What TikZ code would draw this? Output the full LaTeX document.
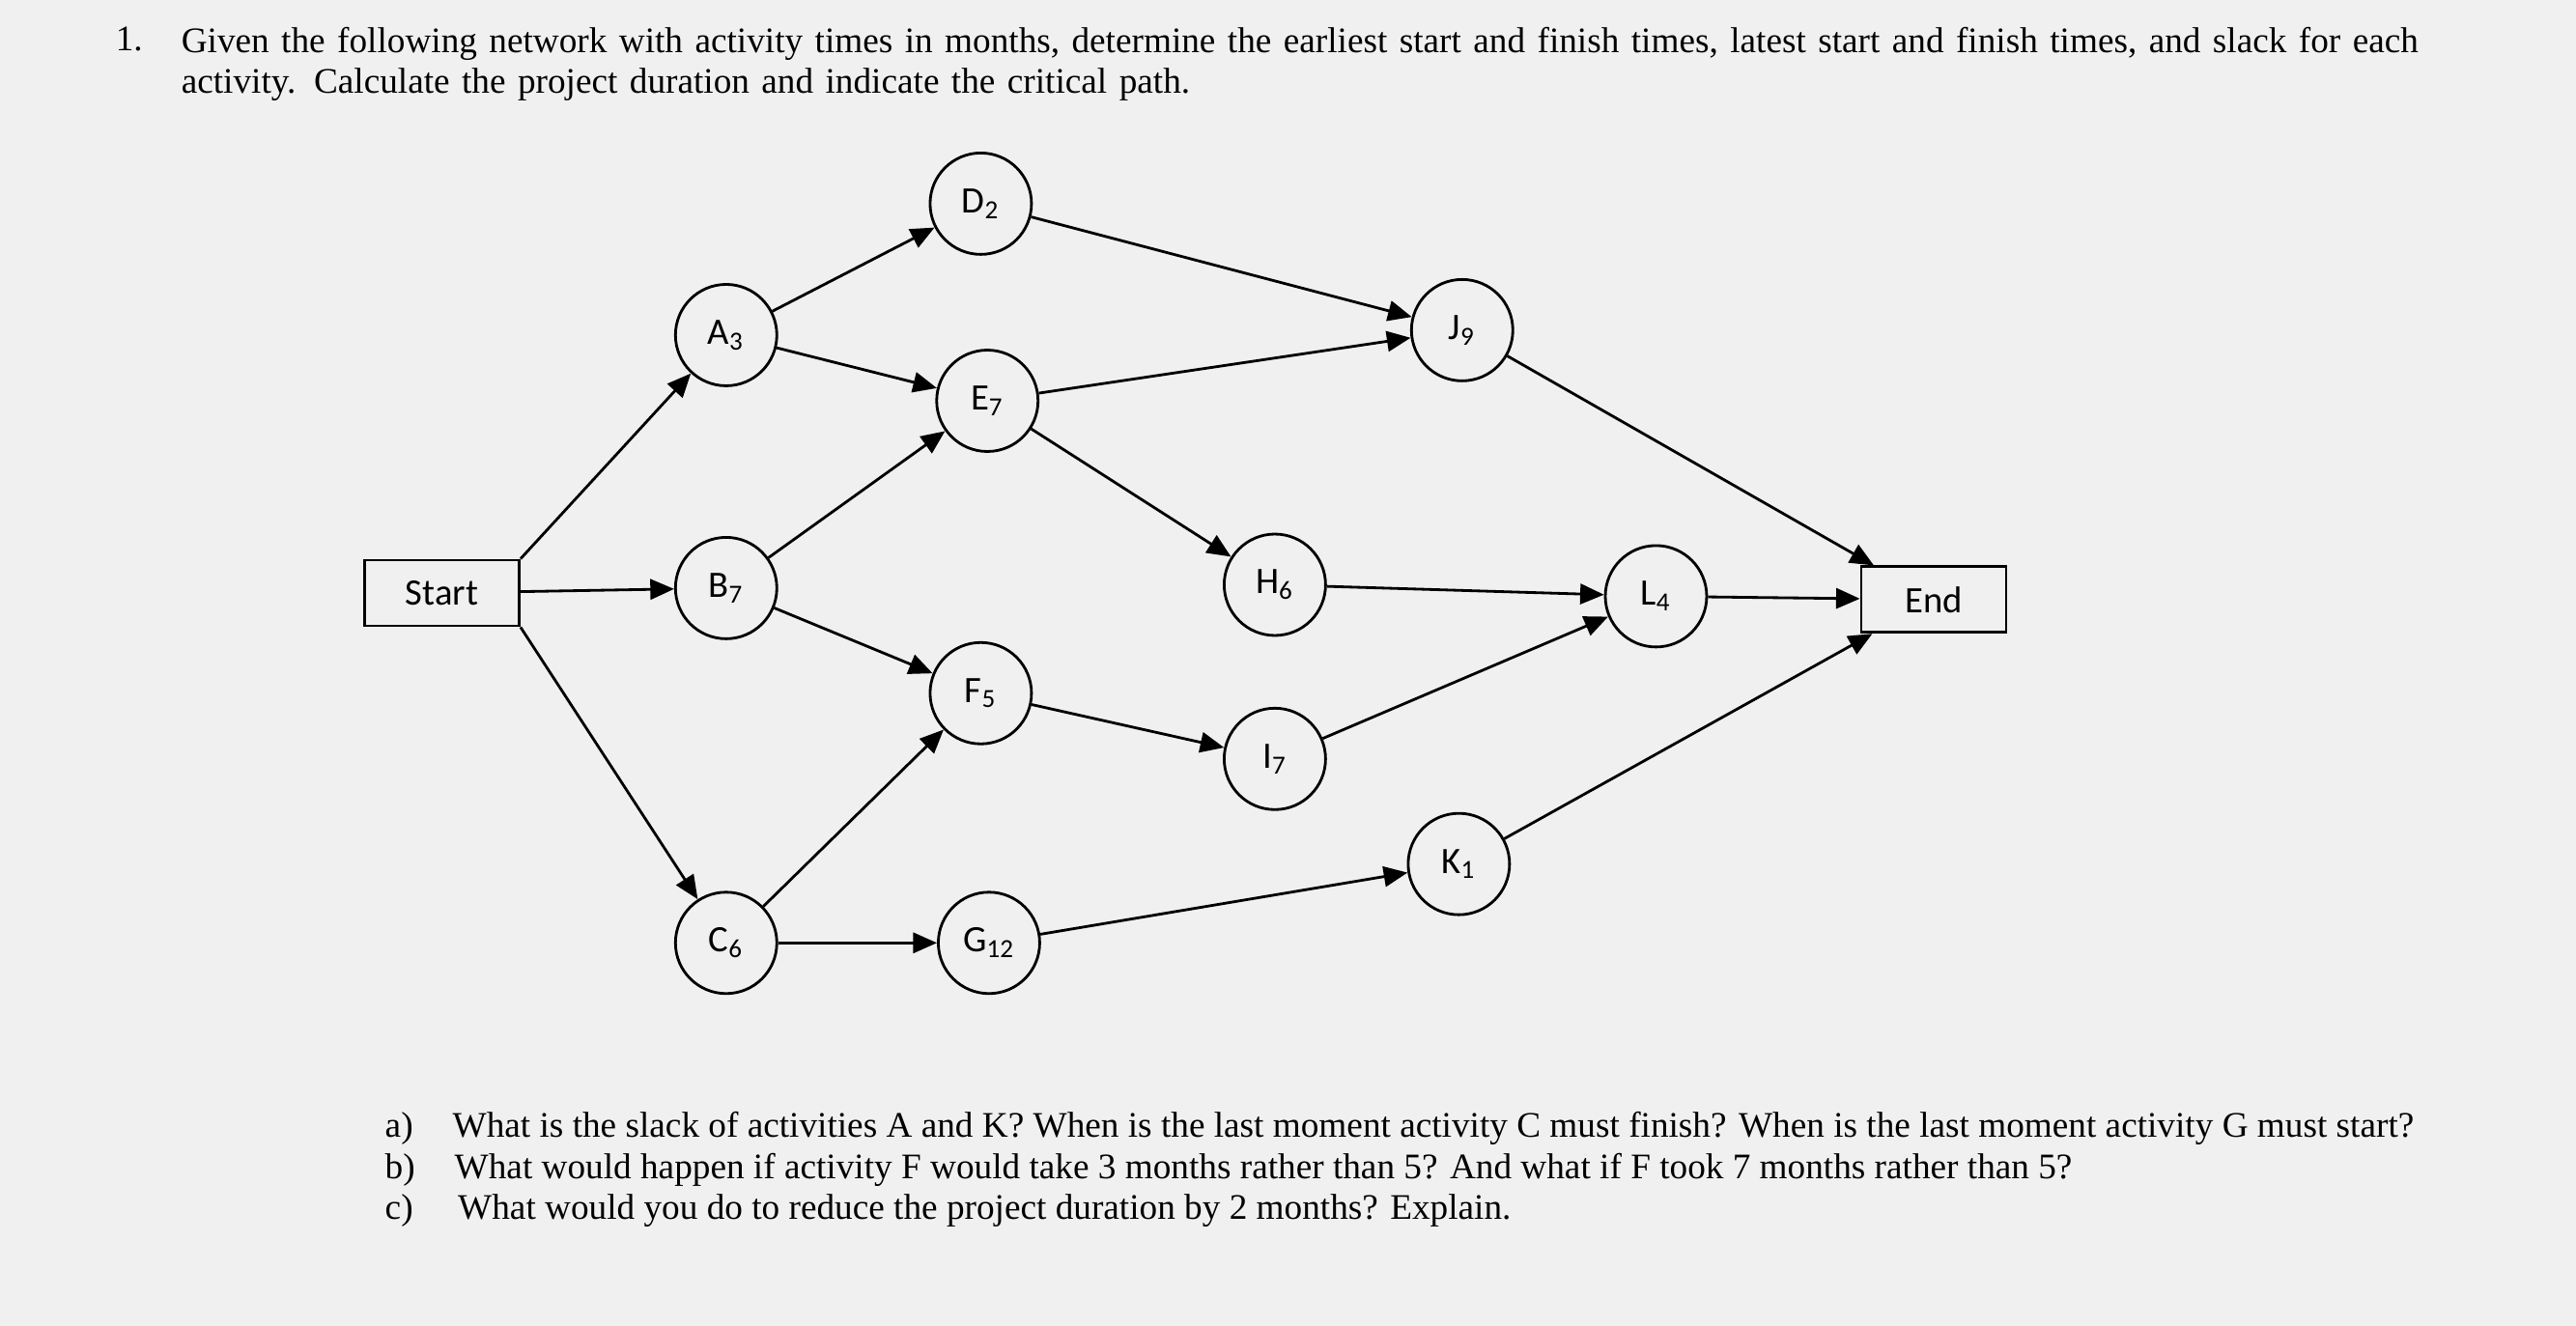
\documentclass[tikz,border=0pt]{standalone}
\usepackage{fontspec}
\setmainfont{Liberation Serif}
\newfontfamily\lab{Carlito}
\usetikzlibrary{arrows.meta}
\begin{document}
\begin{tikzpicture}[x=0.01701cm,y=-0.01701cm,
  act/.style={circle,draw,thick,minimum size=1.05cm,inner sep=0pt,font=\lab\fontsize{11}{13}\selectfont},
  term/.style={draw,thick,minimum width=1.6cm,minimum height=0.68cm,font=\lab\fontsize{11}{13}\selectfont},
  arr/.style={-{Triangle[length=7pt,width=6pt]},thick},
  qt/.style={font=\fontsize{10.6}{12}\selectfont,anchor=west,inner sep=0pt}]
\fill[gray!12] (0,0) rectangle (1568,807);
\useasboundingbox (0,0) rectangle (1568,807);
\node[qt,anchor=north west] (n1) at (70,16) {1.};
\node[qt,anchor=north west,text width=23.5cm,align=left] (q) at (110,16) {Given the following network with activity times in months, determine the earliest start and finish times, latest start and finish times, and slack for each\\activity. Calculate the project duration and indicate the critical path.};
\node[act] (D) at (597,124) {D\textsubscript{2}};
\node[act] (A) at (442,204) {A\textsubscript{3}};
\node[act] (J) at (890,201) {J\textsubscript{9}};
\node[act] (E) at (601,244) {E\textsubscript{7}};
\node[term] (S) at (269,361) {Start};
\node[act] (B) at (442,358) {B\textsubscript{7}};
\node[act] (H) at (776,356) {H\textsubscript{6}};
\node[act] (L) at (1008,363) {L\textsubscript{4}};
\node[term,minimum width=1.5cm] (End) at (1177,365) {End};
\node[act] (F) at (597,422) {F\textsubscript{5}};
\node[act] (I) at (776,462) {I\textsubscript{7}};
\node[act] (K) at (888,526) {K\textsubscript{1}};
\node[act] (C) at (442,574) {C\textsubscript{6}};
\node[act] (G) at (602,574) {G\textsubscript{12}};
\foreach \a/\b in {S.north east/A,S/B,S.south east/C,A/D,A/E,B/E,B/F,C/F,C/G,D/J,E/J,E/H,F/I,H/L,I/L,G/K,J/End,L/End,K/End}
  \draw[arr] (\a) -- (\b);
\node[qt] (qa) at (234,687) {a)\hspace{1.1em}What is the slack of activities A and K? When is the last moment activity C must finish? When is the last moment activity G must start?};
\node[qt] (qb) at (234,712) {b)\hspace{1.1em}What would happen if activity F would take 3 months rather than 5? And what if F took 7 months rather than 5?};
\node[qt] (qc) at (234,737) {c)\hspace{1.25em}What would you do to reduce the project duration by 2 months? Explain.};
\end{tikzpicture}
\end{document}
